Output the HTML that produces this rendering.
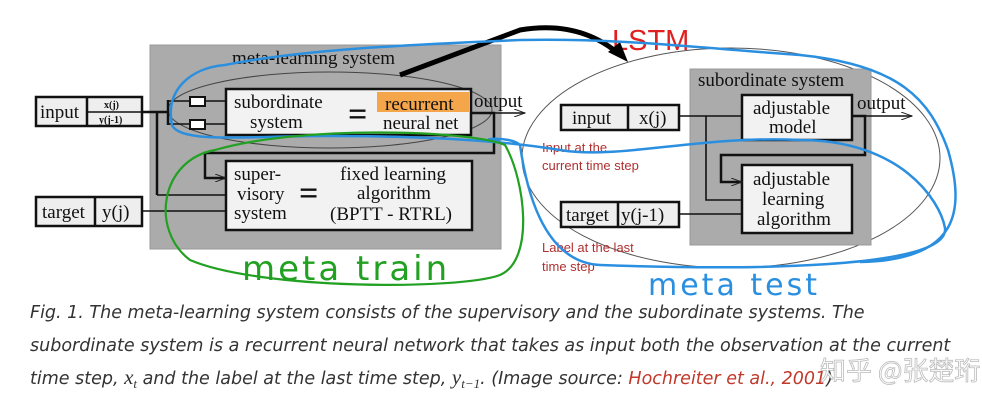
<!DOCTYPE html>
<html><head><meta charset="utf-8"><style>
body{margin:0;background:#fff;width:982px;height:406px;overflow:hidden}
svg{position:absolute;left:0;top:0}
.s{font-family:"Liberation Serif",serif;font-size:19px;fill:#111}
.r{font-family:"Liberation Sans",sans-serif;font-size:13px;fill:#b03030}
.c{font-family:"DejaVu Sans","Liberation Sans",sans-serif;font-style:italic;font-size:17.5px;fill:#333}
</style></head><body>
<svg width="982" height="406" viewBox="0 0 982 406">
<defs><marker id="a" markerWidth="12" markerHeight="8" refX="11" refY="4" orient="auto" markerUnits="userSpaceOnUse"><path d="M0,0 L11,4 L0,8" fill="none" stroke="#222" stroke-width="1"/></marker></defs>
<g stroke="#111" stroke-width="2.5" fill="none">
<rect x="150" y="45" width="351" height="204" fill="#ababab" stroke="#999" stroke-width="1"/>
<ellipse cx="330" cy="110" rx="162" ry="38" stroke="#444" stroke-width="1"/>
<rect x="36" y="97" width="106" height="29" fill="#eee"/>
<line x1="87" y1="97" x2="87" y2="126"/><line x1="87" y1="112" x2="142" y2="112" stroke-width="1.5"/>
<rect x="36" y="197" width="106" height="29" fill="#eee"/><line x1="95" y1="197" x2="95" y2="226"/>
<rect x="226" y="89" width="245" height="46" fill="#f2f2f2"/>
<rect x="226" y="161" width="246" height="69" fill="#f2f2f2"/>
<path d="M142,112 H168 M168,100 V125 M157,112 V195"/>
<path d="M168,101 H190 M168,124 H190 M205,101 H226 M205,124 H226 M157,195 H226 M142,211 H226 M471,113 H525" stroke-width="1.6" marker-end="url(#a)"/>
<path d="M471,113 H494 V153 H205 V178 H226" marker-end="url(#a)" stroke-width="2.5"/>
</g>
<rect x="190" y="97" width="15" height="9" fill="#fff" stroke="#111" stroke-width="2"/>
<rect x="190" y="120" width="15" height="9" fill="#fff" stroke="#111" stroke-width="2"/>
<rect x="377" y="92" width="92" height="20" fill="#f5a54a"/>
<text class="s" x="232" y="64">meta-learning system</text>
<text class="s" x="40" y="118">input</text>
<text class="s" x="104" y="108" style="font-size:10px;font-weight:bold">x(j)</text>
<text class="s" x="99" y="123" style="font-size:10px;font-weight:bold">y(j-1)</text>
<text class="s" x="42" y="218">target</text><text class="s" x="102" y="218">y(j)</text>
<text class="s" x="234" y="108">subordinate</text><text class="s" x="250" y="128">system</text>
<text class="s" x="348" y="125" style="font-size:34px;font-weight:bold">=</text>
<text class="s" x="385" y="110">recurrent</text><text class="s" x="383" y="129">neural net</text>
<text class="s" x="474" y="107">output</text>
<text class="s" x="234" y="180">super-</text><text class="s" x="237" y="200">visory</text><text class="s" x="234" y="219">system</text>
<text class="s" x="299" y="204" style="font-size:34px;font-weight:bold">=</text>
<text class="s" x="340" y="180">fixed learning</text><text class="s" x="357" y="199">algorithm</text><text class="s" x="330" y="220">(BPTT - RTRL)</text>

<ellipse cx="731" cy="158" rx="209" ry="110" fill="none" stroke="#555" stroke-width="1"/>
<g stroke="#111" stroke-width="2.5" fill="none">
<rect x="690" y="69" width="181" height="176" fill="#ababab" stroke="#999" stroke-width="1"/>
<rect x="561" y="105" width="118" height="25" fill="#eee"/><line x1="628" y1="105" x2="628" y2="130"/>
<rect x="561" y="202" width="118" height="25" fill="#eee"/><line x1="618" y1="202" x2="618" y2="227"/>
<rect x="742" y="95" width="110" height="45" fill="#f2f2f2"/>
<rect x="742" y="165" width="110" height="68" fill="#f2f2f2"/>
<path d="M679,116 H742 M706,116 V200 H742 M679,214 H742 M852,116 H912" stroke-width="1.6" marker-end="url(#a)"/>
<path d="M852,116 H865 V155 H721 V182 H742" marker-end="url(#a)"/>
</g>
<text class="s" x="698" y="86">subordinate system</text>
<text class="s" x="572" y="124">input</text><text class="s" x="639" y="124">x(j)</text>
<text class="s" x="566" y="221">target</text><text class="s" x="621" y="221">y(j-1)</text>
<text class="s" x="753" y="114">adjustable</text><text class="s" x="769" y="133">model</text>
<text class="s" x="753" y="185">adjustable</text><text class="s" x="762" y="205">learning</text><text class="s" x="757" y="225">algorithm</text>
<text class="s" x="857" y="109">output</text>
<text class="r" x="542" y="152">Input at the</text><text class="r" x="542" y="170">current time step</text>
<text class="r" x="542" y="252">Label at the last</text><text class="r" x="542" y="271">time step</text>
<text x="612" y="50" font-family="Liberation Sans,sans-serif" font-size="29" fill="#e02020">LSTM</text>
<path d="M400,75 L520,30 Q580,20 620,55" fill="none" stroke="#000" stroke-width="5"/>
<path d="M608,52 L628,62 L620,42 Z" fill="#000"/>
<path d="M225,65 C190,68 165,90 172,125 C180,145 260,135 330,136 C420,136 500,140 560,150 C620,160 700,135 800,140 C900,140 940,200 945,228 C950,270 740,270 600,265 C540,262 525,180 520,145 C510,135 470,140 500,140" fill="none" stroke="#2b8fe0" stroke-width="2.5"/>
<path d="M225,65 C300,50 400,45 520,40 C620,38 700,48 800,55 C900,65 930,100 948,150 C965,210 960,260 860,262" fill="none" stroke="#2b8fe0" stroke-width="2.5"/>
<path d="M215,150 C160,160 150,230 190,260 C260,290 460,290 500,275 C535,260 525,180 505,145 C470,130 300,125 215,150" fill="none" stroke="#22a022" stroke-width="2.2"/>
<text x="242" y="280" font-family="DejaVu Sans,sans-serif" font-size="34" fill="#22a022" letter-spacing="3">meta train</text>
<text x="648" y="295" font-family="DejaVu Sans,sans-serif" font-size="30" fill="#2b8fe0" letter-spacing="3">meta  test</text>

<text class="c" x="30" y="318">Fig. 1. The meta-learning system consists of the supervisory and the subordinate systems. The</text>
<text class="c" x="30" y="351">subordinate system is a recurrent neural network that takes as input both the observation at the current</text>
<text class="c" x="30" y="384">time step, <tspan style="font-family:'Liberation Serif',serif;font-size:21px">x</tspan><tspan style="font-family:'Liberation Serif',serif;font-size:13px" dy="4">t</tspan><tspan dy="-4"> and the label at the last time step, </tspan><tspan style="font-family:'Liberation Serif',serif;font-size:21px">y</tspan><tspan style="font-family:'Liberation Serif',serif;font-size:13px" dy="4">t−1</tspan><tspan dy="-4">. (Image source: </tspan><tspan fill="#c0392b">Hochreiter et al., 2001</tspan>)</text>
<text x="820" y="380" font-family="Noto Sans CJK SC,sans-serif" font-size="26" fill="#fff" stroke="#bbb" stroke-width="0.8">知乎 @张楚珩</text>
</svg>
</body></html>
